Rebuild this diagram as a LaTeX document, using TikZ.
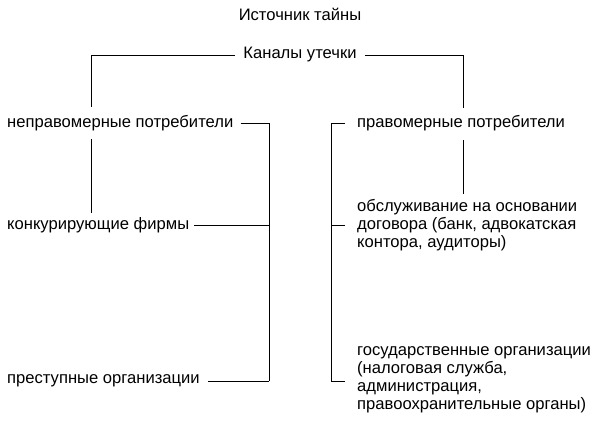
\documentclass[tikz,border=0pt]{standalone}
\usepackage{fontspec}
\setmainfont{Liberation Sans}
\begin{document}
\begin{tikzpicture}[x=1pt, y=-1pt,
        txt/.style = {inner sep=0pt, anchor=west, align=left, font=\fontsize{16.6}{18}\selectfont},
        ln/.style = {draw, line width=0.8pt},
    ]
    \useasboundingbox (0,0) rectangle (600,426);

    \node (src) [txt, anchor=center] at (300,14) {Источник тайны};
    \node (chan) [txt, anchor=center] at (300,55) {Каналы утечки};

    \node (illeg) [txt] at (7,123) {неправомерные потребители};
    \node (comp) [txt] at (7,225) {конкурирующие фирмы};
    \node (crim) [txt] at (7,381) {преступные организации};

    \node (leg) [txt] at (357,123) {правомерные потребители};
    \node (serv) [txt] at (357,225) {обслуживание на основании\\договора (банк, адвокатская\\контора, аудиторы)};
    \node (gov) [txt] at (357,380) {государственные организации\\(налоговая служба,\\администрация,\\правоохранительные органы)};

    \coordinate (lb) at (269,0);
    \coordinate (rb) at (331,0);

    \path[ln] (chan.west) ++(-8,0) -- (91,55) -- (91,107);
    \path[ln] (chan.east) ++(8,0) -- (463,55) -- (463,108);
    \path[ln] (91,139) -- (91,213);
    \path[ln] (463,140) -- (463,194);

    \path[ln] (illeg.east) ++(7,0) -- (illeg.east -| lb) -- (crim.east -| lb);
    \path[ln] (comp.east) ++(5,0) -- (comp.east -| lb);
    \path[ln] (crim.east) ++(8,0) -- (crim.east -| lb);

    \path[ln] (leg.west) ++(-12,0) -- (leg.west -| rb) -- (rb |- 0,381) -- ++(14,0);
    \path[ln] (serv.west) ++(-12,0) -- (serv.west -| rb);
\end{tikzpicture}
\end{document}
